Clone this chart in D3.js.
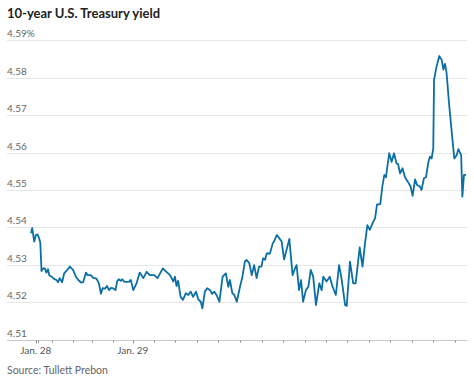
<!DOCTYPE html>
<html lang="en">
<head>
  <meta charset="UTF-8" />
  <title>10-year U.S. Treasury yield</title>
  <style>
    body {
      margin: 0;
      background: white;
      overflow: hidden;
    }
    svg {
      display: block;
      font-family: Lato, "Open Sans", sans-serif;
    }
  </style>
</head>
<body>
<svg id="chart"></svg>
<script src="https://d3js.org/d3.v7.min.js"></script>
<script>
const width = 474;
const height = 382;

// hours since Jan. 28 00:00
const hours = [
  -1.2, -0.9, -0.4, 0.0, 0.4, 0.8, 1.1, 1.4, 1.8, 2.2, 2.6, 3.0, 3.3, 3.9, 4.5, 5.1, 5.5, 5.9, 6.5, 7.0,
  7.6, 8.4, 9.2, 9.9, 10.5, 11.1, 11.7, 12.4, 12.8, 13.6, 14.2, 15.0, 15.6, 16.1, 16.5, 17.1, 17.6, 18.1, 18.6, 19.1,
  19.7, 20.1, 20.5, 21.0, 21.4, 21.8, 22.4, 23.1, 23.5, 24.1, 24.9, 25.7, 26.6, 27.4, 28.2, 29.3, 30.1, 31.4, 32.3, 33.2,
  34.0, 34.4, 34.8, 35.2, 35.8, 36.4, 37.1, 37.7, 38.3, 38.9, 39.6, 40.2, 40.8, 41.2, 41.8, 42.4, 43.1, 43.6, 44.1, 44.7,
  45.4, 46.2, 47.0, 47.6, 48.0, 48.6, 49.1, 49.7, 50.5, 51.1, 51.7, 52.1, 52.8, 53.4, 54.0, 54.6, 55.2, 55.8, 56.2, 56.7,
  57.1, 57.9, 58.6, 58.9, 59.6, 60.2, 60.8, 61.4, 61.9, 62.7, 63.5, 64.1, 64.5, 65.1, 65.6, 66.1, 66.8, 67.4, 68.0, 68.6,
  69.3, 70.1, 70.7, 71.1, 71.9, 72.7, 73.4, 74.2, 75.0, 75.6, 76.5, 76.9, 77.7, 78.5, 79.1, 80.1, 80.8, 81.4, 82.0, 82.6,
  83.3, 83.9, 84.4, 85.2, 85.7, 86.2, 86.6, 87.4, 88.0, 88.6, 89.2, 89.6, 90.1, 90.7, 91.3, 92.0, 92.7, 93.2, 93.8, 94.3,
  95.0, 95.4, 96.0, 96.5, 97.1, 97.5, 97.9, 98.3, 98.5, 99.1, 99.8, 100.4, 100.8, 101.2, 101.6, 102.2, 102.9, 103.5, 104.1, 104.5,
  105.2, 105.5, 105.9, 106.4
];

// percent
const yields = [
  4.5384, 4.5398, 4.5362, 4.5379, 4.5381, 4.5371, 4.5359, 4.5283, 4.5290, 4.5290, 4.5279, 4.5288, 4.5272, 4.5268, 4.5262, 4.5259, 4.5253, 4.5264, 4.5253, 4.5277,
  4.5284, 4.5295, 4.5286, 4.5268, 4.5259, 4.5253, 4.5253, 4.5279, 4.5272, 4.5272, 4.5265, 4.5263, 4.5250, 4.5222, 4.5237, 4.5236, 4.5243, 4.5232, 4.5238, 4.5237,
  4.5232, 4.5255, 4.5261, 4.5257, 4.5261, 4.5255, 4.5254, 4.5255, 4.5259, 4.5232, 4.5250, 4.5279, 4.5264, 4.5281, 4.5272, 4.5272, 4.5264, 4.5290, 4.5281, 4.5272,
  4.5255, 4.5268, 4.5243, 4.5257, 4.5214, 4.5206, 4.5224, 4.5219, 4.5228, 4.5214, 4.5228, 4.5207, 4.5201, 4.5183, 4.5228, 4.5237, 4.5232, 4.5222, 4.5228, 4.5219,
  4.5201, 4.5268, 4.5277, 4.5241, 4.5259, 4.5224, 4.5219, 4.5201, 4.5241, 4.5268, 4.5308, 4.5313, 4.5304, 4.5272, 4.5299, 4.5264, 4.5295, 4.5295, 4.5317, 4.5313,
  4.5330, 4.5330, 4.5357, 4.5362, 4.5379, 4.5371, 4.5362, 4.5314, 4.5335, 4.5369, 4.5272, 4.5290, 4.5299, 4.5232, 4.5259, 4.5201, 4.5232, 4.5241, 4.5286, 4.5268,
  4.5192, 4.5250, 4.5232, 4.5268, 4.5255, 4.5268, 4.5241, 4.5219, 4.5299, 4.5264, 4.5192, 4.5190, 4.5308, 4.5250, 4.5250, 4.5346, 4.5295, 4.5355, 4.5406, 4.5393,
  4.5411, 4.5424, 4.5461, 4.5462, 4.5509, 4.5540, 4.5534, 4.5598, 4.5575, 4.5598, 4.5571, 4.5569, 4.5544, 4.5558, 4.5534, 4.5522, 4.5509, 4.5484, 4.5528, 4.5513,
  4.5509, 4.5500, 4.5531, 4.5534, 4.5575, 4.5589, 4.5584, 4.5611, 4.5794, 4.5829, 4.5858, 4.5847, 4.5822, 4.5837, 4.5812, 4.5732, 4.5651, 4.5584, 4.5593, 4.5609,
  4.5593, 4.5482, 4.5540, 4.5540
];

const yTicks = [4.51, 4.52, 4.53, 4.54, 4.55, 4.56, 4.57, 4.58, 4.59];
const tickHours = [0, 0.5, 4.0, 9.2, 13.9, 19.0, 24.0, 29.2, 34.4, 39.8, 45.0, 50.5, 55.9, 61.1, 66.5, 71.7, 76.9, 82.4, 87.6, 93.0, 98.2, 103.7];
const dayTicks = [0, 24];
const dayLabels = ["Jan. 28", "Jan. 29"];

const data = hours.map((h, i) => ({ h, v: yields[i] }));

const svg = d3.select("#chart")
  .attr("width", width)
  .attr("height", height);

const x = d3.scaleLinear()
  .domain([hours[0], hours[hours.length - 1]])
  .range([31, 466]);

const y = d3.scaleLinear()
  .domain([4.51, 4.59])
  .range([339.5, 40.3]);

// title
svg.append("text")
  .attr("x", 7)
  .attr("y", 18)
  .attr("font-size", 13)
  .attr("font-weight", 700)
  .attr("fill", "#222")
  .text("10-year U.S. Treasury yield");

// gridlines + labels
const grid = svg.append("g");
grid.selectAll("line")
  .data(yTicks)
  .join("line")
  .attr("x1", 7)
  .attr("x2", 467)
  .attr("y1", d => Math.round(y(d)) + 0.5)
  .attr("y2", d => Math.round(y(d)) + 0.5)
  .attr("stroke", d => d === 4.51 ? "#c8c8c8" : "#e6e6e6")
  .attr("stroke-width", 1);

grid.selectAll("text")
  .data(yTicks)
  .join("text")
  .attr("x", 7)
  .attr("y", d => y(d) - 3)
  .attr("font-size", 10)
  .attr("fill", "#666")
  .text(d => d === 4.59 ? d.toFixed(2) + "%" : d.toFixed(2));

// x ticks
svg.append("g")
  .selectAll("line")
  .data(tickHours)
  .join("line")
  .attr("x1", d => Math.round(x(d)) + 0.5)
  .attr("x2", d => Math.round(x(d)) + 0.5)
  .attr("y1", y(4.51) + 1)
  .attr("y2", d => y(4.51) + (dayTicks.includes(d) ? 4 : 3))
  .attr("stroke", "#888");

svg.append("g")
  .selectAll("text")
  .data(dayTicks)
  .join("text")
  .attr("x", d => x(d))
  .attr("y", 354)
  .attr("text-anchor", "middle")
  .attr("font-size", 10)
  .attr("fill", "#555")
  .text((d, i) => dayLabels[i]);

// line
const line = d3.line()
  .x(d => x(d.h))
  .y(d => y(d.v));

svg.append("path")
  .datum(data)
  .attr("fill", "none")
  .attr("stroke", "#0b6fa4")
  .attr("stroke-width", 1.8)
  .attr("stroke-linejoin", "round")
  .attr("d", line);

// source
svg.append("text")
  .attr("x", 7)
  .attr("y", 374)
  .attr("font-size", 10.5)
  .attr("fill", "#666")
  .text("Source: Tullett Prebon");
</script>
</body>
</html>
